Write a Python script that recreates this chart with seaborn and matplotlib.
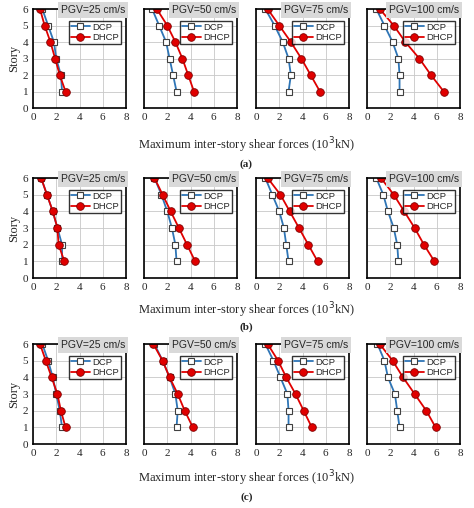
import matplotlib
matplotlib.use("Agg")
import matplotlib.pyplot as plt
import seaborn as sns
import pandas as pd
from matplotlib.ticker import MultipleLocator

stories = [1, 2, 3, 4, 5, 6]
pgv_labels = ["PGV=25 cm/s", "PGV=50 cm/s", "PGV=75 cm/s", "PGV=100 cm/s"]
row_labels = ["(a)", "(b)", "(c)"]

dcp_a = [[2.5, 2.4, 2.0, 1.8, 1.3, 0.8], [2.8, 2.5, 2.2, 1.9, 1.3, 0.7],
         [2.8, 3.0, 2.8, 2.3, 1.6, 0.8], [2.8, 2.8, 2.7, 2.2, 1.5, 0.8]]
dhcp_a = [[2.8, 2.3, 1.9, 1.5, 1.0, 0.6], [4.3, 3.8, 3.3, 2.7, 2.0, 1.1],
          [5.5, 4.7, 3.9, 3.0, 2.0, 1.0], [6.6, 5.5, 4.5, 3.3, 2.3, 1.1]]
dcp_b = [[2.5, 2.5, 2.1, 1.7, 1.2, 0.7], [2.8, 2.7, 2.4, 2.0, 1.5, 0.9],
         [2.8, 2.6, 2.4, 2.0, 1.4, 0.8], [2.7, 2.6, 2.3, 1.8, 1.4, 0.8]]
dhcp_b = [[2.7, 2.2, 2.1, 1.7, 1.2, 0.7], [4.4, 3.7, 3.0, 2.3, 1.6, 0.9],
          [5.3, 4.5, 3.7, 2.9, 2.1, 1.0], [5.8, 4.9, 4.1, 3.2, 2.3, 1.2]]
dcp_c = [[2.5, 2.3, 2.0, 1.7, 1.3, 0.8], [2.8, 2.9, 2.7, 2.2, 1.6, 0.9],
         [2.8, 2.8, 2.7, 2.1, 1.5, 0.8], [2.8, 2.6, 2.4, 1.8, 1.5, 0.9]]
dhcp_c = [[2.8, 2.4, 2.1, 1.6, 1.1, 0.6], [4.2, 3.5, 2.9, 2.2, 1.6, 0.8],
          [4.8, 4.1, 3.4, 2.6, 1.9, 1.0], [5.9, 5.1, 4.1, 3.1, 2.2, 1.1]]
rows = [(dcp_a, dhcp_a), (dcp_b, dhcp_b), (dcp_c, dhcp_c)]

sns.set_style("white")
serif = ["Liberation Serif", "DejaVu Serif"]
sans = ["Liberation Sans", "DejaVu Sans"]

W, H = 474, 508
fig = plt.figure(figsize=(W / 100, H / 100), dpi=100)
xs = [33, 144, 256, 367]
pw = 93
row_y = [(9, 108), (178, 278), (344, 444)]
lab_y = [164, 327, 497]
xlab_y = [145, 310, 478]

for r, (dcp, dhcp) in enumerate(rows):
    y0, y1 = row_y[r]
    for c in range(4):
        ax = fig.add_axes([xs[c] / W, 1 - y1 / H, pw / W, (y1 - y0) / H])
        df = pd.DataFrame({"x": dcp[c] + dhcp[c], "y": stories + stories,
                           "s": ["DCP"] * 6 + ["DHCP"] * 6})
        sns.lineplot(data=df[df.s == "DCP"], x="x", y="y", sort=False, ax=ax,
                     color="#2e75b6", lw=1.3, marker="s", ms=5, mfc="white",
                     mec="#404040", mew=0.8, label="DCP", estimator=None)
        sns.lineplot(data=df[df.s == "DHCP"], x="x", y="y", sort=False, ax=ax,
                     color="#e00000", lw=1.3, marker="o", ms=5.5, mfc="#e00000",
                     mec="#800000", mew=0.6, label="DHCP", estimator=None)
        ax.set_xlim(0, 8)
        ax.set_ylim(0, 6)
        ax.set_xticks(range(0, 9, 2))
        ax.xaxis.set_minor_locator(MultipleLocator(0.5))
        ax.set_yticks(range(7))
        ax.grid(True, color="#c8c8c8", lw=0.6)
        for s in ax.spines.values():
            s.set_color("black"); s.set_linewidth(1.2)
        ax.tick_params(axis="both", which="both", direction="in", labelsize=8,
                       length=3, color="black")
        ax.tick_params(axis="x", which="minor", length=2)
        for t in ax.get_xticklabels() + ax.get_yticklabels():
            t.set_fontfamily(serif)
        ax.set_xlabel(""); ax.set_ylabel("")
        if c == 0:
            ax.set_ylabel("Story", fontsize=9, family=serif, labelpad=2)
        else:
            ax.set_yticklabels([])
        ax.text(0.99, 0.99, pgv_labels[c], transform=ax.transAxes, ha="right",
                va="center", fontsize=7.5, family=sans,
                bbox=dict(boxstyle="square,pad=0.25", fc="#d9d9d9", ec="none"))
        ax.legend(loc="upper right", bbox_to_anchor=(1.0, 0.93),
                  frameon=True, fancybox=False, edgecolor="black",
                  borderpad=0.2, handlelength=2.0, handletextpad=0.3,
                  labelspacing=0.15, prop={"family": sans, "size": 6.8})
    fig.text(0.5 + 0.02, 1 - xlab_y[r] / H,
             "Maximum inter-story shear forces (10$^3$kN)", ha="center",
             va="center", fontsize=9, family=serif)
    fig.text(0.5 + 0.02, 1 - lab_y[r] / H, row_labels[r], ha="center",
             va="center", fontsize=8, family=serif, weight="bold")

fig.savefig("out.png", dpi=100)
